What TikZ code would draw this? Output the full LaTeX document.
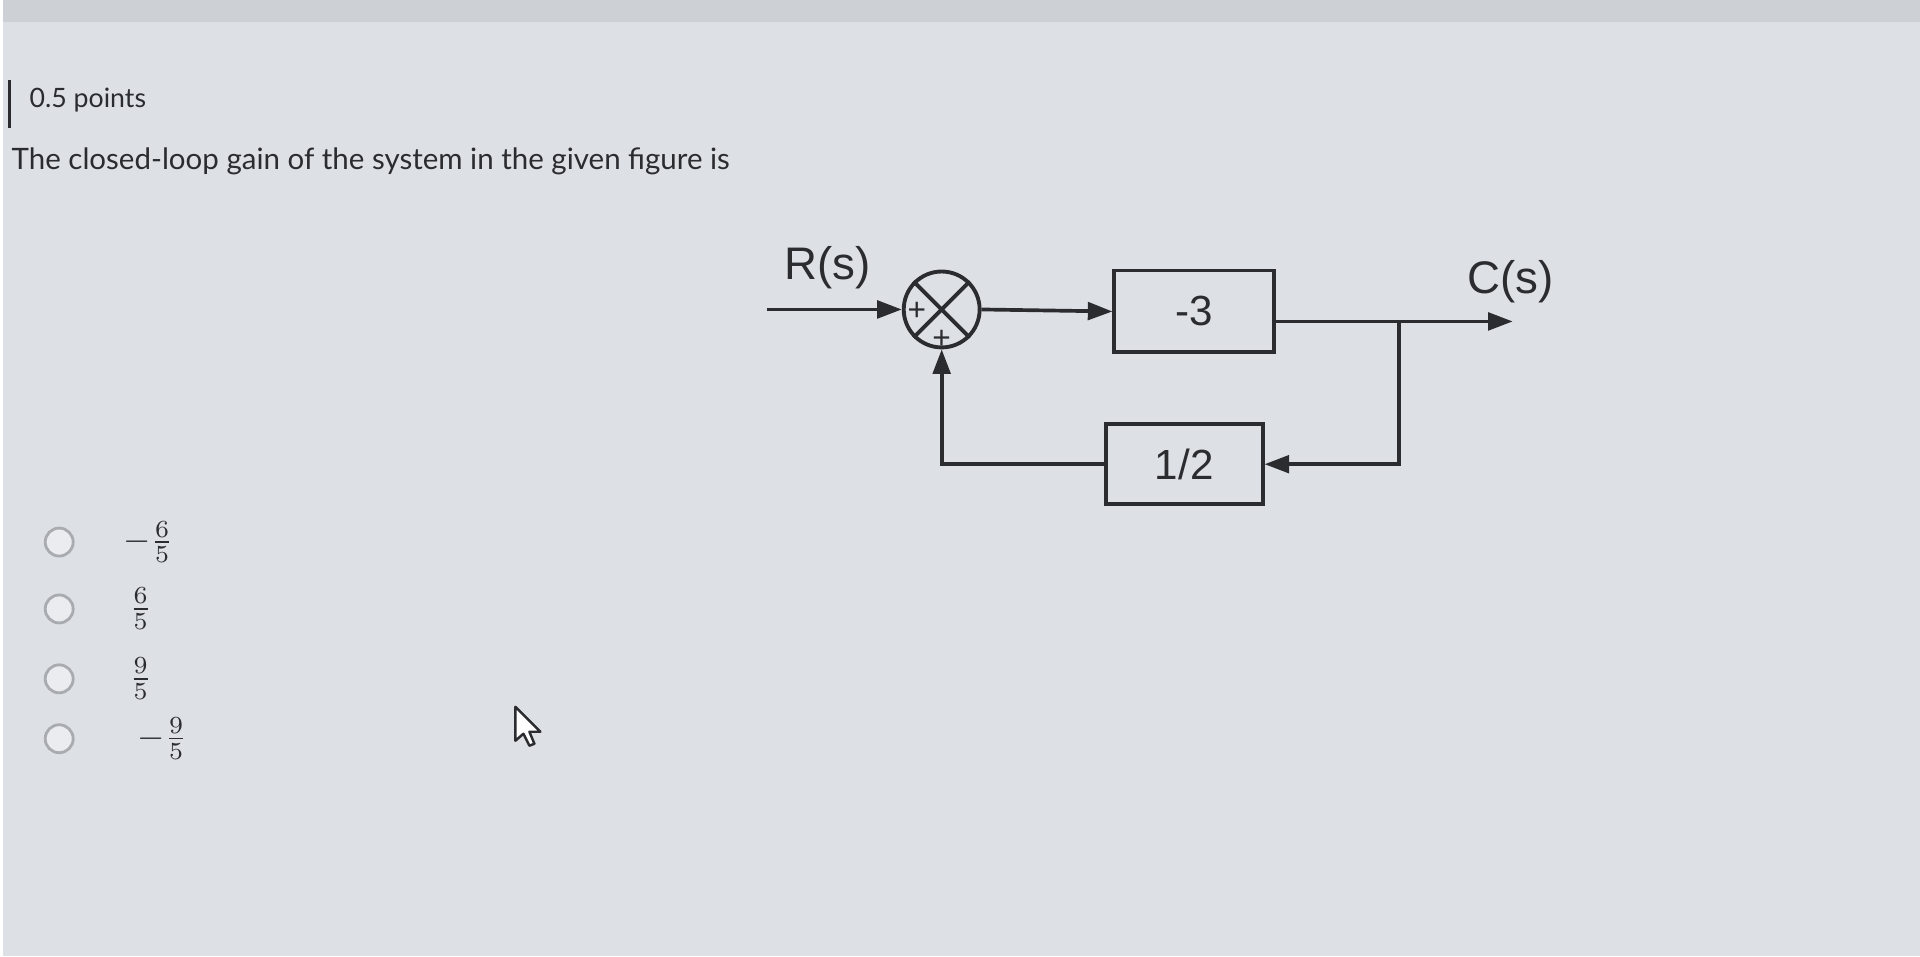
\documentclass[tikz,border=0pt]{standalone}
\usepackage{fontspec}
\setmainfont{Lato}
\newfontfamily\arialf{Liberation Sans}
\usetikzlibrary{arrows.meta}
\definecolor{bg}{HTML}{DDE0E4}
\definecolor{topband}{HTML}{CDD0D4}
\definecolor{ink}{HTML}{2A2C30}
\definecolor{radio}{HTML}{A8ABAF}
\begin{document}
\begin{tikzpicture}[x=0.01cm,y=-0.01cm,
  blk/.style={draw=ink,line width=1.1pt,minimum width=1.6cm,minimum height=0.82cm,inner sep=0pt,font=\arialf\fontsize{12}{13}\selectfont,text=ink},
  sig/.style={draw=ink,line width=1.05pt},
  arr/.style={sig,-{Triangle[length=7pt,width=5pt]}},
  lbl/.style={font=\arialf\fontsize{13}{14}\selectfont,text=ink},
  rad/.style={circle,draw=radio,line width=0.8pt,minimum size=0.28cm,inner sep=0pt,fill=bg!60!white},
  ans/.style={anchor=west,text=ink,font=\fontsize{10}{12}\selectfont}]
\fill[bg] (0,0) rectangle (1920,958);
\fill[topband] (0,0) rectangle (1920,22);
\draw[ink,line width=0.8pt] (6,80) -- (6,128);
\node[anchor=west,text=ink,font=\fontsize{7.6}{9}\selectfont] (pts) at (14,100) {0.5 points};
\node[anchor=west,text=ink,font=\fontsize{8.4}{10}\selectfont] (q) at (-4,162) {The closed-loop gain of the system in the given figure is};
% diagram
\node[circle,draw=ink,line width=1.1pt,minimum size=0.76cm,inner sep=0pt] (sum) at (940,310) {};
\draw[ink,line width=1.1pt] (sum.north west) -- (sum.south east) (sum.north east) -- (sum.south west);
\node[font=\arialf\fontsize{9}{9}\selectfont,text=ink] (p1) at (915,312) {+};
\node[font=\arialf\fontsize{9}{9}\selectfont,text=ink] (p2) at (940,340) {+};
\node[blk] (g) at (1193,312) {-3};
\node[blk,minimum width=1.57cm,minimum height=0.8cm] (h) at (1183,465) {1/2};
\coordinate (rin) at (765,310);
\coordinate (cout) at (1512,322);
\coordinate (br) at (1398,322);
\node[lbl] (R) at (826,268) {R(s)};
\node[lbl] (C) at (1510,282) {C(s)};
\draw[arr] (rin) -- (sum.west);
\draw[arr] (sum.east) -- (g.west);
\draw[arr] (g.east |- cout) -- (cout);
\draw[arr] (br) -- (br |- h.east) -- (h.east);
\draw[arr] (h.west) -- (sum.south |- h.west) -- (sum.south);
% answers
\foreach \y/\n in {543/r1,610/r2,680/r3,740/r4} \node[rad] (\n) at (56,\y) {};
\node[ans] (a1) at (108,543) {$-\frac{6}{5}$};
\node[ans] (a2) at (114,610) {$\frac{6}{5}$};
\node[ans] (a3) at (114,680) {$\frac{9}{5}$};
\node[ans] (a4) at (122,740) {$-\frac{9}{5}$};
% cursor
\draw[ink,line width=0.7pt,fill=white,line join=round] (513,708) -- (513,742) -- (521,735) -- (527,747) -- (532,745) -- (527,733) -- (538,733) -- cycle;
\end{tikzpicture}
\end{document}
